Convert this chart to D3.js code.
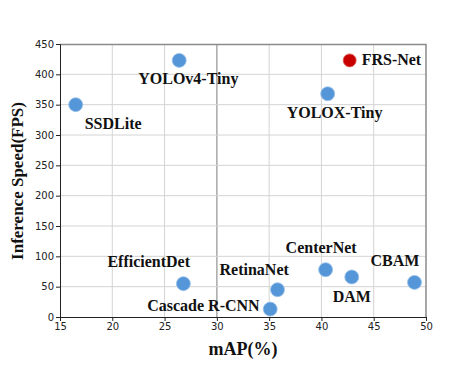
<!DOCTYPE html>
<html>
<head>
<meta charset="utf-8">
<script src="https://cdn.jsdelivr.net/npm/d3@7"></script>
<style>
  body { margin: 0; background: #fff; }
  .tick text { font-family: "DejaVu Sans", sans-serif; font-size: 10px; fill: #222; }
  .lbl { font-family: "Liberation Serif", "Times New Roman", serif; font-weight: bold; fill: #111; }
</style>
</head>
<body>
<svg id="chart" width="474" height="365"></svg>
<script>
var models = ['SSDLite', 'YOLOv4-Tiny', 'YOLOX-Tiny', 'FRS-Net', 'EfficientDet',
  'RetinaNet', 'Cascade R-CNN', 'CenterNet', 'DAM', 'CBAM'];
var mAP = [16.5, 26.4, 40.6, 42.7, 26.8, 35.8, 35.1, 40.4, 42.9, 48.9];
var fps = [350, 423, 368, 423, 55, 45, 13, 78, 66, 57];
// label offsets from point (px), text-anchor start
var labelDx = [9, -41, -41, 12, -76, -58, -123, -40, -19, -44];
var labelDy = [24, 24, 24, 5, -17, -15, 2, -17, 25, -16];
var xTicks = [15, 20, 25, 30, 35, 40, 45, 50];
var yTicks = [0, 50, 100, 150, 200, 250, 300, 350, 400, 450];

var margin = {left: 60, top: 44, right: 48, bottom: 48};
var width = 474 - margin.left - margin.right;
var height = 365 - margin.top - margin.bottom;

var svg = d3.select('#chart');
var g = svg.append('g')
  .attr('transform', 'translate(' + margin.left + ',' + margin.top + ')');

var x = d3.scaleLinear().domain([15, 50]).range([0, width]);
var y = d3.scaleLinear().domain([0, 450]).range([height, 0]);

// grid
g.selectAll('.vgrid')
  .data(xTicks.slice(1, -1))
  .enter().append('line')
    .attr('x1', d => x(d)).attr('x2', d => x(d))
    .attr('y1', 0).attr('y2', height)
    .attr('stroke', d => d === 30 ? '#a8a8a8' : '#d4d4d4')
    .attr('stroke-width', d => d === 30 ? 1.5 : 1);

g.selectAll('.hgrid')
  .data(yTicks.slice(1, -1))
  .enter().append('line')
    .attr('x1', 0).attr('x2', width)
    .attr('y1', d => y(d)).attr('y2', d => y(d))
    .attr('stroke', '#d4d4d4');

// top/right frame
g.append('path')
  .attr('d', 'M0,0.5H' + width + 'V' + height)
  .attr('fill', 'none')
  .attr('stroke', '#8a8a8a')
  .attr('stroke-width', 1.5);

var xAxis = g.append('g')
  .attr('transform', 'translate(0,' + height + ')')
  .call(d3.axisBottom(x).tickValues(xTicks).tickSize(4).tickPadding(2));
var yAxis = g.append('g')
  .call(d3.axisLeft(y).tickValues(yTicks).tickSize(4).tickPadding(2));
xAxis.select('.domain').attr('stroke', '#222');
yAxis.select('.domain').attr('stroke', '#222');
svg.selectAll('.tick line').attr('stroke', '#222');

// points
g.selectAll('.pt')
  .data(models)
  .enter().append('circle')
    .attr('cx', (d, i) => x(mAP[i]))
    .attr('cy', (d, i) => y(fps[i]))
    .attr('r', (d) => d === 'FRS-Net' ? 6.5 : 7)
    .attr('fill', (d) => d === 'FRS-Net' ? '#c80000' : '#5596d8')
    .attr('stroke', (d) => d === 'FRS-Net' ? '#e06060' : '#9cc3ea')
    .attr('stroke-width', 0.8);

g.selectAll('.name')
  .data(models)
  .enter().append('text')
    .attr('class', 'lbl')
    .attr('x', (d, i) => x(mAP[i]) + labelDx[i])
    .attr('y', (d, i) => y(fps[i]) + labelDy[i])
    .attr('font-size', 16)
    .text(d => d);

svg.append('text')
  .attr('class', 'lbl')
  .attr('x', margin.left + width / 2)
  .attr('y', 355)
  .attr('text-anchor', 'middle')
  .attr('font-size', 18)
  .text('mAP(%)');

svg.append('text')
  .attr('class', 'lbl')
  .attr('transform', 'translate(23,' + 181 + ') rotate(-90)')
  .attr('text-anchor', 'middle')
  .attr('font-size', 17)
  .text('Inference Speed(FPS)');
</script>
</body>
</html>
